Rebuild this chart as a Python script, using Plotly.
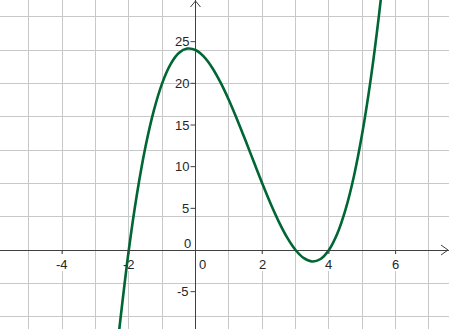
import plotly.graph_objects as go

# curve points
x_vals = [-2.3, -2.0, -1.75, -1.5, -1.25, -1.0, -0.75, -0.5, -0.25, 0.0, 0.25, 0.5, 0.75,
          1.0, 1.25, 1.5, 1.75, 2.0, 2.25, 2.5, 2.75, 3.0, 3.25, 3.5, 3.75, 4.0, 4.25,
          4.5, 4.75, 5.0, 5.25, 5.5, 5.75]
y_vals = [-10.02, 0.0, 6.83, 12.38, 16.73, 20.0, 22.27, 23.63, 24.17, 24.0, 23.2, 21.88, 20.11,
          18.0, 15.64, 13.13, 10.55, 8.0, 5.58, 3.38, 1.48, 0.0, -0.98, -1.38, -1.08, 0.0, 1.95,
          4.88, 8.86, 14.0, 20.39, 28.13, 37.3]

x_ticks = [-4, -2, 2, 4, 6]
y_ticks = [-5, 5, 10, 15, 20, 25]
x_range = [-5.862, 7.601]
y_range = [-9.48, 30.0]

axis_col = "#404040"
grid_col = "#c8c8c8"
text_col = "#262626"
font = dict(family="Liberation Sans, Arial, sans-serif", size=13, color=text_col)

fig = go.Figure()
fig.add_trace(go.Scatter(x=x_vals, y=y_vals, mode="lines", line=dict(color="#006633", width=2.6, shape="spline"),
                         hoverinfo="skip"))

shapes = []
annotations = []
for t in x_ticks:
    shapes.append(dict(type="rect", layer="between", xref="x", yref="y", xsizemode="pixel", ysizemode="pixel",
                       xanchor=t, yanchor=0, x0=-7, x1=7, y0=-4, y1=-21, line=dict(width=0), fillcolor="white"))
    shapes.append(dict(type="line", xref="x", yref="y", xsizemode="pixel", ysizemode="pixel",
                       xanchor=t, yanchor=0, x0=0, x1=0, y0=0, y1=-4, line=dict(color=axis_col, width=1)))
    annotations.append(dict(x=t, y=0, xref="x", yref="y", text=str(t), showarrow=False,
                            xanchor="center", yanchor="top", yshift=-5, font=font))
for t in y_ticks:
    shapes.append(dict(type="line", xref="x", yref="y", xsizemode="pixel",
                       xanchor=0, x0=-5, x1=0, y0=t, y1=t, line=dict(color=axis_col, width=1)))
    annotations.append(dict(x=0, y=t, xref="x", yref="y", text=str(t), showarrow=False,
                            xanchor="right", yanchor="middle", xshift=-5, font=font))
# origin labels
annotations.append(dict(x=0, y=0, xref="x", yref="y", text="0", showarrow=False,
                        xanchor="right", yanchor="middle", xshift=-3, yshift=7, font=font))
annotations.append(dict(x=0, y=0, xref="x", yref="y", text="0", showarrow=False,
                        xanchor="left", yanchor="top", xshift=1, yshift=-5, font=font))
# axis arrows
shapes.append(dict(type="path", xref="x", yref="paper", xsizemode="pixel", ysizemode="pixel",
                   xanchor=0, yanchor=1, path="M -5,-7 L 0,-1 L 5,-7", line=dict(color=axis_col, width=1)))
shapes.append(dict(type="path", xref="paper", yref="y", xsizemode="pixel", ysizemode="pixel",
                   xanchor=1, yanchor=0, path="M -8,5 L -1,0 L -8,-5", line=dict(color=axis_col, width=1)))

fig.update_layout(
    width=449, height=329, margin=dict(l=0, r=0, t=0, b=0),
    paper_bgcolor="white", plot_bgcolor="white", showlegend=False,
    shapes=shapes, annotations=annotations,
    xaxis=dict(range=x_range, dtick=1, tick0=0, showgrid=True, gridcolor=grid_col, gridwidth=1,
               zeroline=True, zerolinecolor=axis_col, zerolinewidth=1, showticklabels=False, ticks="", fixedrange=True),
    yaxis=dict(range=y_range, dtick=4, tick0=0, showgrid=True, gridcolor=grid_col, gridwidth=1,
               zeroline=True, zerolinecolor=axis_col, zerolinewidth=1, showticklabels=False, ticks="", fixedrange=True),
)
fig.write_html("out.html", config=dict(displayModeBar=False))
